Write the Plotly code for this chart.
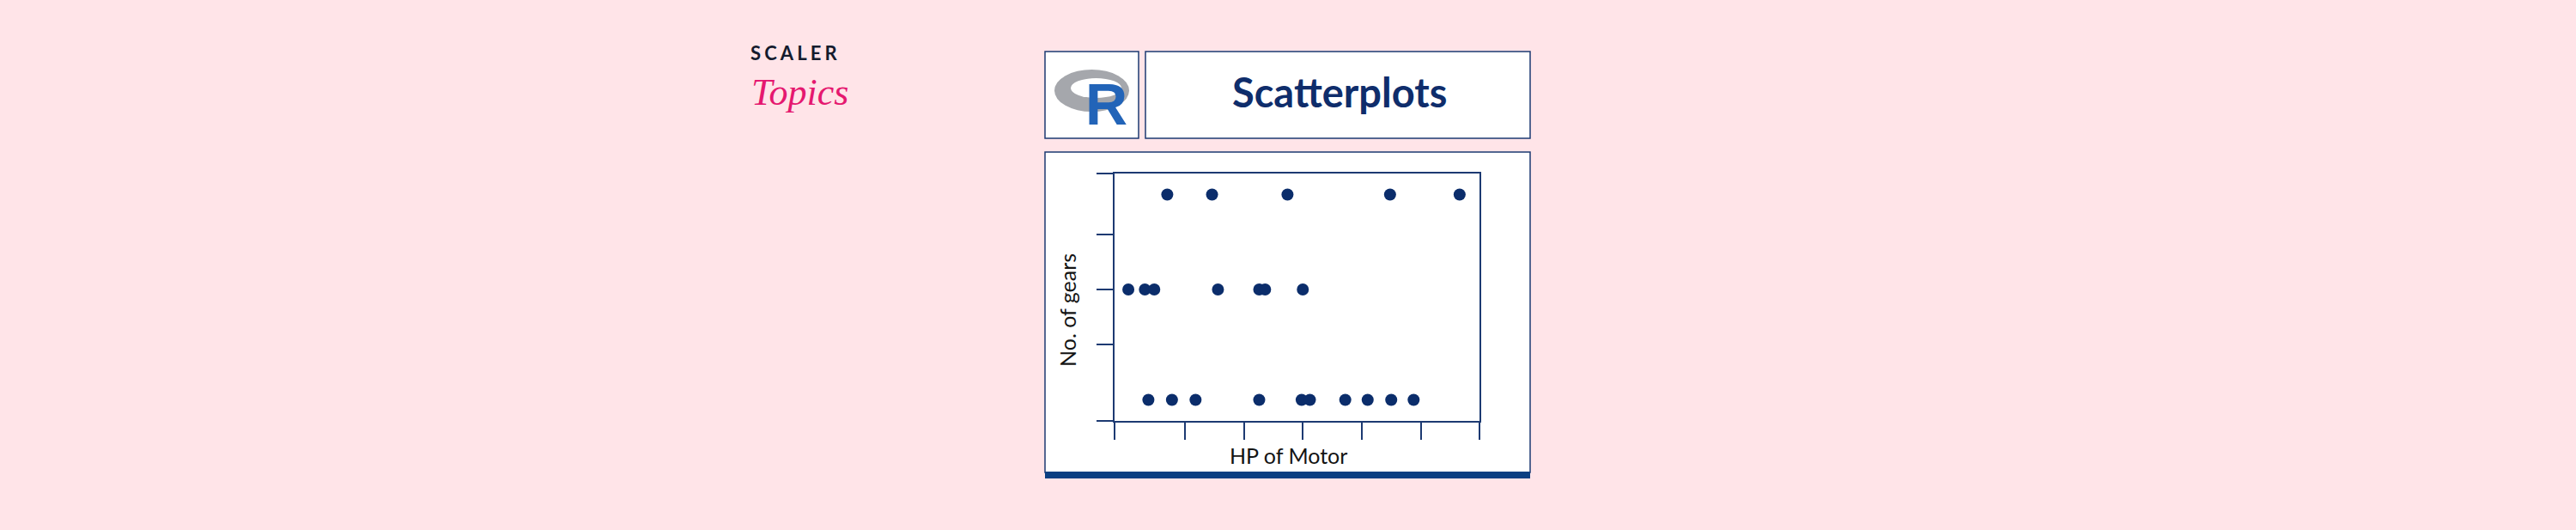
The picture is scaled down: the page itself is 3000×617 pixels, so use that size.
import plotly.graph_objects as go

W, H = 3000, 617

# horsepower vs gears (top row / middle row / bottom row)
hp_top = [85, 123, 187, 274, 333]
hp_mid = [52, 66, 74, 128, 163, 168, 200]
hp_low = [69, 89, 109, 163, 199, 206, 236, 255, 275, 294]
gear_top, gear_mid, gear_low = 4.86, 4, 3

x_ticks = [40, 100, 150, 200, 250, 300, 350]
y_ticks = [2.81, 3.5, 4, 4.5, 5.05]

hp = hp_top + hp_mid + hp_low
gears = [gear_top] * len(hp_top) + [gear_mid] * len(hp_mid) + [gear_low] * len(hp_low)

NAVY = "#1d3a72"
BG = "#ffe4e8"


def px(x):
    return x / W


def py(y):
    return 1 - y / H


def box(x0, y0, x1, y1, fill="white", line=NAVY, width=1.5, kind="rect"):
    return dict(type=kind, xref="paper", yref="paper", layer="below",
                x0=px(x0), x1=px(x1), y0=py(y1), y1=py(y0),
                fillcolor=fill, line=dict(color=line, width=width))


fig = go.Figure()
fig.add_trace(go.Scatter(x=hp, y=gears, mode="markers",
                         marker=dict(size=14, color="#0b2d6b", line_width=0),
                         hoverinfo="x+y"))

shapes = [
    box(1217, 177, 1782, 550),                       # plot card
    box(1217, 549, 1782, 557, fill="#0a3f82", line="#0a3f82", width=0),
    box(1217, 60, 1326, 161),                        # logo box
    box(1334, 60, 1782, 161),                        # title box
    # R logo ring
    box(1228, 81, 1315, 130, fill="#a5a7ac", line="#a5a7ac", width=0, kind="circle"),
    box(1247, 91, 1306, 114, fill="white", line="white", width=0, kind="circle"),
]

annotations = [
    dict(text="Scatterplots", x=px(1560), y=py(107),
         font=dict(family="Lato", size=47, color="#0f2d6b", weight="bold")),
    dict(text="R", x=px(1288), y=py(121),
         font=dict(family="Liberation Sans", size=68, color="#2264b8", weight="bold")),
    dict(text="\u2009\u200a".join("SCALER"), x=px(925), y=py(61),
         font=dict(family="Lato", size=22, color="#141b2d", weight="bold")),
    dict(text="Topics", x=px(932), y=py(108),
         font=dict(family="Liberation Serif", size=44, color="#e5186f", style="italic")),
    dict(text="HP of Motor", x=px(1500), y=py(530),
         font=dict(family="Lato", size=25, color="#141414")),
    dict(text="No. of gears", x=px(1243), y=py(361), textangle=-90,
         font=dict(family="Lato", size=25, color="#141414")),
]
for a in annotations:
    a.update(xref="paper", yref="paper", showarrow=False,
             xanchor="center", yanchor="middle")

axis_style = dict(showline=True, mirror=True, linecolor=NAVY, linewidth=2,
                  ticks="outside", tickwidth=2, tickcolor=NAVY,
                  showticklabels=False, showgrid=False, zeroline=False,
                  fixedrange=True)

fig.update_layout(
    width=W, height=H,
    margin=dict(l=0, r=0, t=0, b=0),
    paper_bgcolor=BG,
    plot_bgcolor="rgba(0,0,0,0)",
    showlegend=False,
    shapes=shapes,
    annotations=annotations,
    xaxis=dict(domain=[px(1297.6), px(1723.2)], range=[40, 350],
               tickvals=x_ticks, ticklen=20, **axis_style),
    yaxis=dict(domain=[py(490), py(202)], range=[2.81, 5.05],
               tickvals=y_ticks, ticklen=19, **axis_style),
)

fig.write_html("out.html", config={"displayModeBar": False},
               post_script="document.body.style.margin = '0';")
